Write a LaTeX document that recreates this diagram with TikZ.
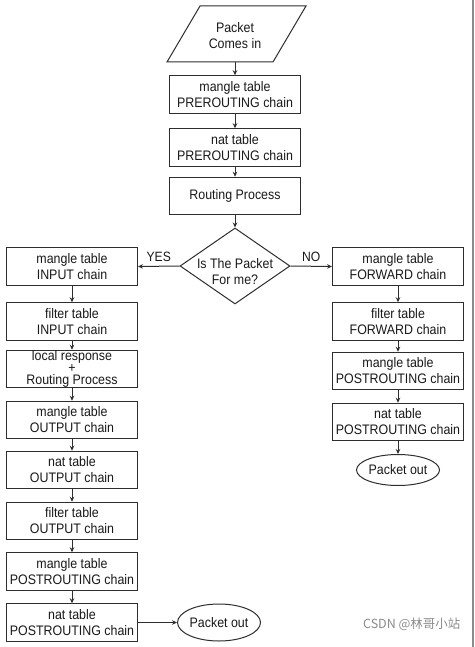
\documentclass[tikz,border=0pt]{standalone}
\usepackage{fontspec}
\setmainfont{Liberation Sans}[FakeStretch=0.9]
\newfontfamily\cjk{Noto Sans CJK SC}
\usetikzlibrary{shapes.geometric,arrows.meta}
\begin{document}
\begin{tikzpicture}[x=1pt,y=-1pt,
  every node/.style={font=\fontsize{13.8}{16}\selectfont, text=black!90},
  box/.style={draw=black!82, line width=1pt, minimum width=131pt, minimum height=37.5pt, inner sep=0pt, align=center},
  endel/.style={draw=black!82, line width=1pt, ellipse, inner sep=0pt, align=center},
  dec/.style={draw=black!82, line width=1pt, diamond, minimum width=110pt, minimum height=76pt, inner sep=0pt, aspect=1.45},
  conn/.style={draw=black!82, line width=1pt, -{Stealth[length=5pt,width=4.5pt]}},
  lbl/.style={font=\fontsize{13.5}{15}\selectfont}
]
\useasboundingbox (0,0) rectangle (474,647);
\fill[white] (0,0) rectangle (474,647);
\fill[black!45] (472,0) rectangle (474,647);

% input parallelogram
\draw[draw=black!82, line width=1pt] (200,6) -- (306,6) -- (273,62) -- (167,62) -- cycle;
\node[align=center] (in) at (235,36) {Packet\\Comes in};
\coordinate (inb) at (235,62);

\node[box] (mp) at (235,94.5) {mangle table\\PREROUTING chain};
\node[box] (np) at (235,147.5) {nat table\\PREROUTING chain};
\node[box] (rp) at (235,196) {Routing Process};
\node[dec] (d) at (235,266) {};
\node[align=center] (dt) at (235,272) {Is The Packet\\For me?};

% left column
\node[box] (mi) at (72,266.5) {mangle table\\INPUT chain};
\node[box] (fi) at (72,321.5) {filter table\\INPUT chain};
\node[box] (lr) at (72,369) {local response\\[-4pt]+\\[-4pt]Routing Process};
\node[box] (mo) at (72,420) {mangle table\\OUTPUT chain};
\node[box] (no) at (72,470) {nat table\\OUTPUT chain};
\node[box] (fo) at (72,521) {filter table\\OUTPUT chain};
\node[box] (mpo) at (72,571.5) {mangle table\\POSTROUTING chain};
\node[box] (npo) at (72,622.5) {nat table\\POSTROUTING chain};
\node[endel, minimum width=78pt, minimum height=37pt] (outl) at (219,622.5) {Packet out};

% right column
\node[box] (mf) at (398,266.5) {mangle table\\FORWARD chain};
\node[box] (ff) at (398,321.5) {filter table\\FORWARD chain};
\node[box] (mpr) at (398,371) {mangle table\\POSTROUTING chain};
\node[box] (npr) at (398,422) {nat table\\POSTROUTING chain};
\node[endel, minimum width=76pt, minimum height=31pt] (outr) at (398,470) {Packet out};

% connectors
\draw[conn] (inb) -- (mp);
\draw[conn] (mp) -- (np);
\draw[conn] (np) -- (rp);
\draw[conn] (rp) -- (d);
\draw[conn] (d.west) -- node[lbl, above=1pt, pos=0.5] {YES} (mi.east);
\draw[conn] (d.east) -- node[lbl, above=1pt, pos=0.5] {NO} (mf.west);
\draw[conn] (mi) -- (fi);
\draw[conn] (fi) -- (lr);
\draw[conn] (lr) -- (mo);
\draw[conn] (mo) -- (no);
\draw[conn] (no) -- (fo);
\draw[conn] (fo) -- (mpo);
\draw[conn] (mpo) -- (npo);
\draw[conn] (npo) -- (outl);
\draw[conn] (mf) -- (ff);
\draw[conn] (ff) -- (mpr);
\draw[conn] (mpr) -- (npr);
\draw[conn] (npr) -- (outr);

\node[anchor=east, text=black!45, font=\cjk\fontsize{12.5}{14}\selectfont] (wm) at (464,624) {CSDN @林哥小站};
\end{tikzpicture}
\end{document}
